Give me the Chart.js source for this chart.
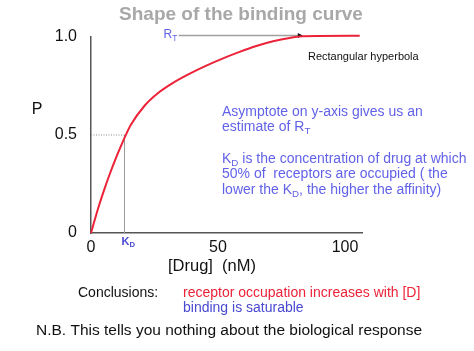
<!DOCTYPE html>
<html>
<head>
<meta charset="utf-8">
<script src="https://cdn.jsdelivr.net/npm/chart.js@4.4.1/dist/chart.umd.min.js"></script>
<style>
html,body{margin:0;padding:0;background:#fff;}
#c{display:block;}
</style>
</head>
<body>
<canvas id="c" width="474" height="351"></canvas>
<script>
// ---- data ----
const drugConc = [0, 3.03, 5.28, 7.24, 9.45, 12.2, 13.5, 15.7, 21.0, 26.3, 32.3, 38.9, 45.4, 52.0, 58.5, 65.1, 71.7, 78.2, 83.5, 105.8];
const occupancy = [0, 0.135, 0.224, 0.296, 0.371, 0.456, 0.494, 0.552, 0.648, 0.713, 0.766, 0.813, 0.854, 0.891, 0.924, 0.954, 0.978, 0.995, 1.004, 1.006];
const xTickValues = [0, 50, 100];
const yTickValues = [0, 0.5, 1.0];
const yTickLabels = ['0', '0.5', '1.0'];
const kd = 13.2;          // K_D (nM), half occupancy
const rtArrowFrom = 34.5; // [Drug] where R_T arrow starts
const rtArrowTo = 83;     // [Drug] where R_T arrow meets curve
const rtLevel = 1.0;

const FONT = '"Liberation Sans", Arial, Helvetica, sans-serif';
const BLUE = '#6262e8';
const RED = '#ec2238';

function rich(ctx, parts, x, y, size, color, bold) {
  let cx = x;
  ctx.fillStyle = color;
  ctx.textBaseline = 'middle';
  ctx.textAlign = 'left';
  for (const p of parts) {
    const sub = p.sub;
    const sz = sub ? size * 0.7 : size;
    ctx.font = (bold ? 'bold ' : '') + sz + 'px ' + FONT;
    ctx.fillText(p.t, cx, sub ? y + size * 0.3 : y);
    cx += ctx.measureText(p.t).width;
  }
}

const annotations = {
  id: 'annotations',
  beforeDatasetsDraw(chart) {
    const ctx = chart.ctx, xs = chart.scales.x, ys = chart.scales.y;
    ctx.save();
    ctx.strokeStyle = '#8a8a8a';
    ctx.lineWidth = 1;
    ctx.setLineDash([1, 1.5]);
    ctx.beginPath();
    ctx.moveTo(xs.getPixelForValue(0), ys.getPixelForValue(0.5));
    ctx.lineTo(xs.getPixelForValue(kd), ys.getPixelForValue(0.5));
    ctx.stroke();
    ctx.setLineDash([]);
    ctx.strokeStyle = '#9a9a9a';
    ctx.beginPath();
    ctx.moveTo(xs.getPixelForValue(kd), ys.getPixelForValue(0.5));
    ctx.lineTo(xs.getPixelForValue(kd), ys.getPixelForValue(0));
    ctx.stroke();
    // R_T arrow
    const ay = ys.getPixelForValue(rtLevel) - 1.5;
    const ax0 = xs.getPixelForValue(rtArrowFrom), ax1 = xs.getPixelForValue(rtArrowTo);
    ctx.strokeStyle = '#a0a0a0';
    ctx.lineWidth = 1.5;
    ctx.beginPath();
    ctx.moveTo(ax0, ay);
    ctx.lineTo(ax1 - 3, ay);
    ctx.stroke();
    ctx.fillStyle = '#111';
    ctx.beginPath();
    ctx.moveTo(ax1 + 1, ay);
    ctx.lineTo(ax1 - 4, ay - 2.5);
    ctx.lineTo(ax1 - 4, ay + 2.5);
    ctx.closePath();
    ctx.fill();
    ctx.restore();
  },
  afterDraw(chart) {
    const ctx = chart.ctx, xs = chart.scales.x, ys = chart.scales.y;
    ctx.save();
    // title
    ctx.font = 'bold 19px ' + FONT;
    ctx.fillStyle = '#a8a8a8';
    ctx.textAlign = 'center';
    ctx.textBaseline = 'middle';
    ctx.fillText('Shape of the binding curve', 241, 15);
    // y label
    ctx.font = '16px ' + FONT;
    ctx.fillStyle = '#111';
    ctx.fillText('P', 37, 110);
    // x label
    ctx.font = '16.5px ' + FONT;
    ctx.fillText('[Drug]  (nM)', 212, 266);
    // R_T
    rich(ctx, [{t: 'R'}, {t: 'T', sub: true}], xs.getPixelForValue(rtArrowFrom) - 15, ys.getPixelForValue(rtLevel) - 2, 12, BLUE);
    // K_D on x axis
    rich(ctx, [{t: 'K'}, {t: 'D', sub: true}], xs.getPixelForValue(kd) - 3, 242, 11, '#4a4ad0', true);
    // Rectangular hyperbola
    ctx.font = '11px ' + FONT;
    ctx.fillStyle = '#111';
    ctx.textAlign = 'left';
    ctx.fillText('Rectangular hyperbola', 308, 57);
    // blue notes
    rich(ctx, [{t: 'Asymptote on y-axis gives us an'}], 222, 112, 14, BLUE);
    rich(ctx, [{t: 'estimate of R'}, {t: 'T', sub: true}], 222, 127, 14, BLUE);
    rich(ctx, [{t: 'K'}, {t: 'D', sub: true}, {t: ' is the concentration of drug at which'}], 222, 159, 14, BLUE);
    rich(ctx, [{t: '50% of  receptors are occupied ( the'}], 222, 174, 14, BLUE);
    rich(ctx, [{t: 'lower the K'}, {t: 'D', sub: true}, {t: ', the higher the affinity)'}], 222, 190, 14, BLUE);
    // conclusions
    rich(ctx, [{t: 'Conclusions:'}], 78, 293, 14, '#111');
    rich(ctx, [{t: 'receptor occupation increases with [D]'}], 183, 293, 14, RED);
    rich(ctx, [{t: 'binding is saturable'}], 183, 308, 14, '#4848d0');
    rich(ctx, [{t: 'N.B. This tells you nothing about the biological response'}], 36, 331, 15.5, '#111');
    ctx.restore();
  }
};

new Chart(document.getElementById('c'), {
  type: 'line',
  data: {
    datasets: [{
      data: drugConc.map((x, i) => ({x: x, y: occupancy[i]})),
      borderColor: RED,
      borderWidth: 2,
      pointRadius: 0,
      fill: false,
      cubicInterpolationMode: 'monotone',
      clip: false
    }]
  },
  options: {
    responsive: false,
    animation: false,
    devicePixelRatio: 1,
    layout: {padding: {left: 31, right: 112, top: 37, bottom: 88}},
    plugins: {legend: {display: false}, tooltip: {enabled: false}, title: {display: false}},
    scales: {
      x: {
        type: 'linear', min: 0, max: 106.7,
        afterBuildTicks: s => { s.ticks = xTickValues.map(v => ({value: v})); },
        afterFit: s => { s.height = 30; },
        grid: {display: false, drawTicks: false},
        border: {color: '#555', width: 1.5},
        ticks: {padding: 5, color: '#111', font: {size: 16, family: FONT}, callback: v => String(v)}
      },
      y: {
        type: 'linear', min: 0, max: 1,
        afterBuildTicks: s => { s.ticks = yTickValues.map(v => ({value: v})); },
        afterFit: s => { s.width = 60; },
        grid: {display: false, drawTicks: false},
        border: {color: '#555', width: 1.5},
        ticks: {padding: 14, color: '#111', font: {size: 16, family: FONT},
          callback: (v) => yTickLabels[yTickValues.indexOf(v)]}
      }
    }
  },
  plugins: [annotations]
});
</script>
</body>
</html>
